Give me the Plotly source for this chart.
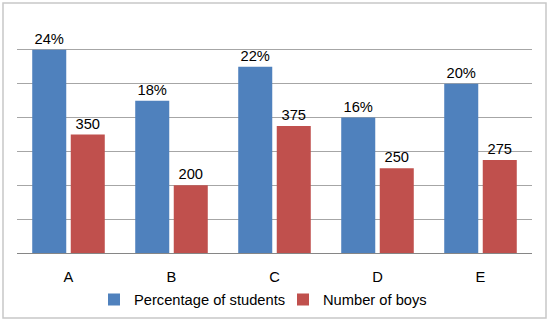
import plotly.graph_objects as go

categories = ["A", "B", "C", "D", "E"]
pct_students = [24, 18, 22, 16, 20]
num_boys = [350, 200, 375, 250, 275]
pct_labels = [f"{v}%" for v in pct_students]
boys_labels = [str(v) for v in num_boys]

BLUE = "#4F81BD"
RED = "#C0504D"
FONT = "Arial, Liberation Sans, sans-serif"
FS = 14.7

fig = go.Figure()
fig.add_trace(go.Bar(
    x=categories, y=pct_students, name="Percentage of students",
    marker=dict(color=BLUE, line=dict(width=0)),
    text=pct_labels, textposition="outside", cliponaxis=False, constraintext="none",
    textfont=dict(family=FONT, size=FS, color="#000000"),
    offsetgroup="1", alignmentgroup="g", yaxis="y", legend="legend",
))
fig.add_trace(go.Bar(
    x=categories, y=num_boys, name="Number of boys",
    marker=dict(color=RED, line=dict(width=0)),
    text=boys_labels, textposition="outside", cliponaxis=False, constraintext="none",
    textfont=dict(family=FONT, size=FS, color="#000000"),
    offsetgroup="2", alignmentgroup="g", yaxis="y2", legend="legend2",
))

L, R, T, B = 17, 18, 16, 69
W, H = 550, 322
pw, ph = W - L - R, H - T - B

def px_x(x):
    return (x - L) / pw

def px_y(y):
    return (H - B - y) / ph

legend_common = dict(orientation="h", yanchor="middle", y=px_y(300), xanchor="left",
                     font=dict(family=FONT, size=FS, color="#000000"),
                     bgcolor="rgba(0,0,0,0)", borderwidth=0)

fig.update_layout(
    width=W, height=H,
    margin=dict(l=L, r=R, t=T, b=B, pad=0, autoexpand=False),
    paper_bgcolor="white", plot_bgcolor="white",
    barmode="group", bargap=0.252, bargroupgap=0.117,
    font=dict(family=FONT, size=FS, color="#000000"),
    showlegend=True,
    legend=dict(legend_common, x=px_x(94)),
    legend2=dict(legend_common, x=px_x(283)),
    xaxis=dict(showgrid=False, showline=True, linecolor="#868686", linewidth=1,
               ticks="", ticklabelstandoff=10, tickfont=dict(family=FONT, size=FS, color="#000000"),
               zeroline=False),
    yaxis=dict(range=[0, 28], dtick=4, showgrid=True, gridcolor="#a6a6a6", gridwidth=1,
               showticklabels=False, zeroline=False, showline=False, ticks=""),
    yaxis2=dict(range=[0, 700], dtick=100, overlaying="y", side="right", showgrid=False,
                showticklabels=False, zeroline=False, showline=False, ticks=""),
    shapes=[dict(type="rect", xref="paper", yref="paper",
                 x0=px_x(3), x1=px_x(546), y0=px_y(318), y1=px_y(3),
                 line=dict(color="#c8c8c8", width=1.5), fillcolor="rgba(0,0,0,0)", layer="below")],
)

fig.write_html("out.html")
